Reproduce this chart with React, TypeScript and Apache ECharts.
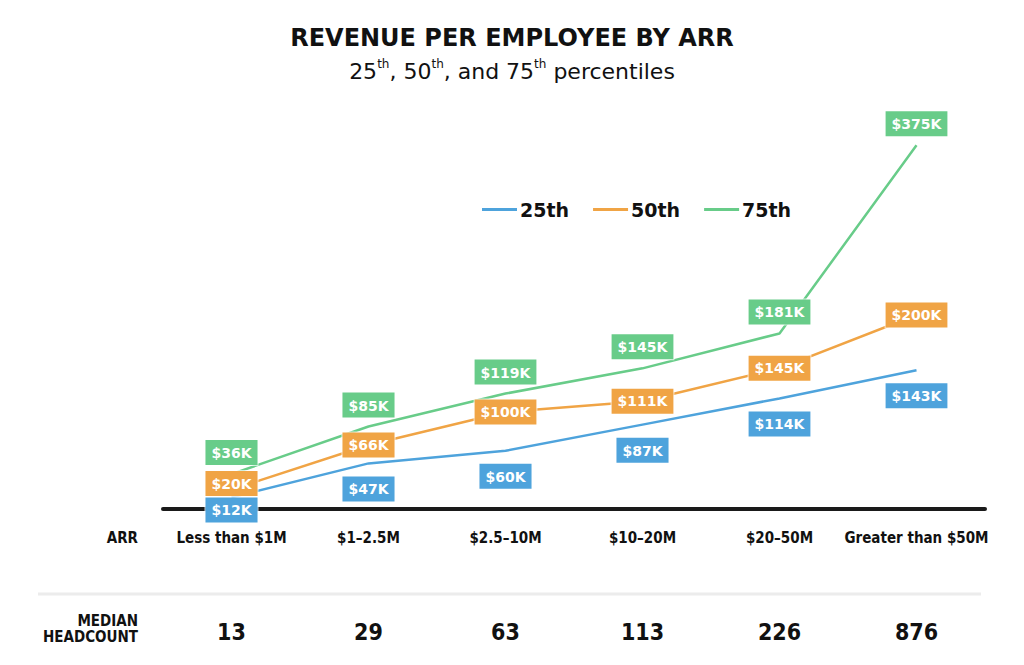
import React, { useEffect, useRef } from "react";
import * as echarts from "echarts";

// ARR bands along the x axis
const categories = [
  "Less than $1M",
  "$1–2.5M",
  "$2.5–10M",
  "$10–20M",
  "$20–50M",
  "Greater than $50M",
];

// Median headcount for each ARR band
const headcount = [13, 29, 63, 113, 226, 876];

// Revenue per employee, in $K
const p25 = [12, 47, 60, 87, 114, 143];
const p50 = [20, 66, 100, 111, 145, 200];
const p75 = [36, 85, 119, 145, 181, 375];

const BLUE = "#4ea3dc";
const ORANGE = "#f0a445";
const GREEN = "#68cc89";

const BOLD_FONT = "'DejaVu Sans', sans-serif";
const COND_FONT = "'DejaVu Sans Condensed', 'Liberation Sans Narrow', sans-serif";

const fmtK = (v: number) => `$${v}K`;

const labelBox = (bg: string) => ({
  show: true,
  formatter: (p: any) => fmtK(p.value),
  color: "#fff",
  fontFamily: BOLD_FONT,
  fontWeight: "bold" as const,
  fontSize: 14,
  backgroundColor: bg,
  borderColor: "rgba(255,255,255,0.7)",
  borderWidth: 1,
  padding: [6, 6, 5, 6],
});

export default function App() {
  const ref = useRef<HTMLDivElement>(null);

  useEffect(() => {
    if (!ref.current) return;
    const chart = echarts.init(ref.current, null, { renderer: "svg" });

    const lineSeries = (
      name: string,
      values: number[],
      color: string,
      label: any,
      firstLabel?: any
    ) => ({
      name,
      type: "line",
      data: values.map((v, i) =>
        i === 0 && firstLabel ? { value: v, label: firstLabel } : v
      ),
      showSymbol: true,
      symbol: "circle",
      symbolSize: 0.1,
      itemStyle: { color },
      lineStyle: { color, width: 2.5 },
      label,
      emphasis: { disabled: true },
    });

    chart.setOption({
      animation: false,
      backgroundColor: "#ffffff",
      title: [
        {
          text: "REVENUE PER EMPLOYEE BY ARR",
          left: "center",
          top: 21,
          textStyle: {
            fontFamily: BOLD_FONT,
            fontWeight: "bold",
            fontSize: 24,
            color: "#111",
          },
        },
        {
          text: "25{s|th}, 50{s|th}, and 75{s|th} percentiles",
          left: "center",
          top: 53,
          textStyle: {
            fontFamily: BOLD_FONT,
            fontWeight: "normal",
            fontSize: 22,
            lineHeight: 27,
            color: "#111",
            rich: {
              s: {
                fontFamily: BOLD_FONT,
                fontSize: 12,
                lineHeight: 27,
                verticalAlign: "top",
                color: "#111",
              },
            },
          },
        },
      ],
      legend: {
        left: 482,
        top: 200,
        padding: 0,
        icon: "rect",
        itemWidth: 35,
        itemHeight: 3,
        itemGap: 24,
        textStyle: {
          fontFamily: BOLD_FONT,
          fontWeight: "bold",
          fontSize: 19,
          color: "#111",
          padding: [0, 0, 0, -2],
        },
        data: ["25th", "50th", "75th"],
      },
      grid: { left: 163, right: 39, top: 121, bottom: 156 },
      xAxis: [
        {
          type: "category",
          data: categories,
          boundaryGap: true,
          axisLine: { lineStyle: { color: "#1a1a1a", width: 4 } },
          axisTick: { show: false },
          axisLabel: {
            interval: 0,
            margin: 21,
            fontFamily: COND_FONT,
            fontWeight: "bold",
            fontSize: 15,
            color: "#111",
          },
        },
        {
          type: "category",
          data: headcount.map(String),
          position: "bottom",
          offset: 100,
          boundaryGap: true,
          axisLine: { show: false },
          axisTick: { show: false },
          axisLabel: {
            interval: 0,
            margin: 11,
            fontFamily: COND_FONT,
            fontWeight: "bold",
            fontSize: 23,
            color: "#111",
          },
        },
      ],
      yAxis: { type: "value", min: 0, max: 400, show: false },
      series: [
        lineSeries(
          "25th",
          p25,
          BLUE,
          { ...labelBox(BLUE), position: "bottom", distance: 13 },
          { distance: 0 }
        ),
        lineSeries(
          "50th",
          p50,
          ORANGE,
          { ...labelBox(ORANGE), position: "inside" },
          { offset: [0, -6] }
        ),
        lineSeries("75th", p75, GREEN, {
          ...labelBox(GREEN),
          position: "top",
          distance: 9,
        }),
      ],
      graphic: [
        {
          type: "text",
          x: 138,
          y: 530,
          style: {
            text: "ARR",
            align: "right",
            fontFamily: COND_FONT,
            fontWeight: "bold",
            fontSize: 15,
            fill: "#111",
          },
        },
        {
          type: "line",
          shape: { x1: 38, y1: 594, x2: 981, y2: 594 },
          style: { stroke: "#ececec", lineWidth: 3 },
        },
        {
          type: "text",
          x: 138,
          y: 613,
          style: {
            text: "MEDIAN\nHEADCOUNT",
            align: "right",
            lineHeight: 16,
            fontFamily: COND_FONT,
            fontWeight: "bold",
            fontSize: 15,
            fill: "#111",
          },
        },
      ],
    });

    return () => chart.dispose();
  }, []);

  return (
    <div
      ref={ref}
      style={{ position: "fixed", left: 0, top: 0, width: 1024, height: 665 }}
    />
  );
}
